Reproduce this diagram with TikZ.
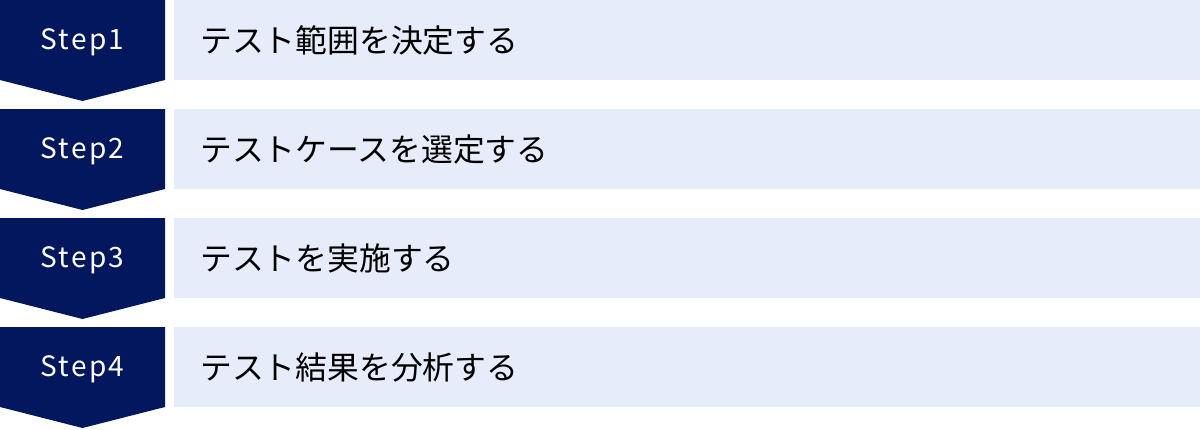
\documentclass[tikz,border=0pt]{standalone}
\usepackage{fontspec}
\setmainfont{Noto Sans CJK JP}
\newfontfamily\stepfont[LetterSpace=8]{Noto Sans CJK JP}
\definecolor{stepnavy}{HTML}{03175F}
\definecolor{rowblue}{HTML}{E6ECF9}
\tikzset{
  steplabel/.style={text=white, font=\stepfont\fontsize{28}{32}\selectfont, inner sep=0pt},
  tasklabel/.style={text=black, font=\fontsize{31.8}{36}\selectfont, anchor=west, inner sep=0pt},
}
\newcommand{\StepRow}[2]{
  \fill[stepnavy] (0,0) -- (165,0) -- (165,80) -- (82.5,101) -- (0,80) -- cycle;
  \fill[rowblue] (174,0) rectangle (1200,80);
  \node[steplabel] (step#1) at (82.5,42) {Step#1};
  \node[tasklabel] (task#1) at (200,40) {#2};
}
\begin{document}
\begin{tikzpicture}[x=1pt,y=-1pt]
  \useasboundingbox (0,0) rectangle (1200,429);
  \begin{scope}[shift={(0,0)}]
    \StepRow{1}{テスト範囲を決定する}
  \end{scope}
  \begin{scope}[shift={(0,109)}]
    \StepRow{2}{テストケースを選定する}
  \end{scope}
  \begin{scope}[shift={(0,218)}]
    \StepRow{3}{テストを実施する}
  \end{scope}
  \begin{scope}[shift={(0,327)}]
    \StepRow{4}{テスト結果を分析する}
  \end{scope}
\end{tikzpicture}
\end{document}
